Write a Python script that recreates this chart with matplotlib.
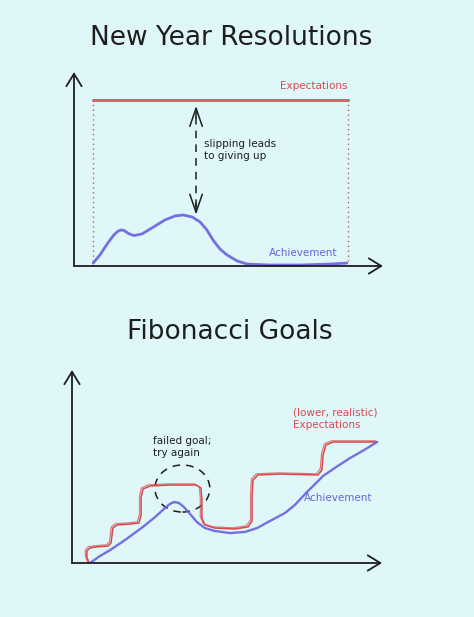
import matplotlib

matplotlib.use("Agg")

import matplotlib.pyplot as plt
import matplotlib.transforms as mtransforms
from matplotlib.patches import Ellipse


BACKGROUND = "#e0f7fa"
INK = "#1e1e1e"
RED_SOFT = "#d9636b"
RED = "#d9474b"
VIOLET = "#6a60df"

# --- New Year Resolutions (x: time 0-100, y: level 0-100) ---
NY_EXPECT_LEVEL = 85.6
NY_EXPECT_START = 6.1
NY_EXPECT_END = 88.6
NY_ACHIEVE_X = [6.2, 8.4, 10.7, 12.9, 14.2, 15.2, 16.2, 17.8, 19.4, 22.0, 25.2,
                29.4, 32.7, 35.3, 38.2, 40.8, 43.0, 45.0, 47.2, 49.5, 52.8,
                56.0, 63.4, 73.1, 82.8, 88.3]
NY_ACHIEVE_Y = [1.5, 5.7, 11.3, 16.0, 17.9, 18.6, 18.3, 16.6, 15.7, 16.5, 19.6,
                23.7, 25.8, 26.3, 25.3, 22.7, 18.6, 13.4, 8.8, 5.7, 2.6,
                1.0, 0.5, 0.5, 1.0, 1.5]
NY_GAP_X = 39.5
NY_GAP_TOP = 82.5
NY_GAP_BOTTOM = 26.5

# --- Fibonacci Goals ---
FIB_ACHIEVE_X = [5.8, 9.0, 12.3, 17.1, 22.9, 26.8, 30.0, 31.6, 32.9, 34.5, 36.1,
                 38.1, 40.3, 42.9, 46.1, 51.0, 55.8, 59.7, 63.9, 68.7, 71.9,
                 75.8, 78.4, 81.0, 85.2, 89.7, 94.2, 98.4]
FIB_ACHIEVE_Y = [0.0, 3.6, 6.7, 11.9, 18.7, 23.8, 28.5, 30.6, 31.6, 31.1, 29.0,
                 25.4, 21.2, 18.1, 16.6, 15.5, 16.1, 18.1, 21.8, 25.9, 30.1,
                 36.8, 40.9, 45.1, 49.7, 54.4, 58.5, 62.7]
FIB_EXPECT_X = [5.5, 4.8, 4.8, 5.8, 7.7, 11.6, 12.6, 12.9, 13.2, 14.5, 18.7,
                21.6, 22.3, 22.3, 22.9, 25.2, 31.6, 40.0, 41.6, 41.9, 41.9,
                42.9, 46.1, 52.6, 56.8, 58.1, 58.1, 58.4, 60.0, 67.1, 79.4,
                80.6, 81.0, 81.9, 84.2, 98.4]
FIB_EXPECT_Y = [0.0, 3.1, 6.2, 7.8, 8.3, 8.8, 10.4, 14.5, 18.1, 19.7, 20.2,
                20.7, 24.9, 34.2, 38.3, 39.9, 40.4, 40.4, 38.9, 32.6, 23.3,
                19.7, 18.1, 17.6, 18.7, 21.8, 35.2, 43.0, 45.6, 46.1, 45.6,
                48.2, 56.0, 61.1, 62.7, 62.7]
FIB_FAILED_CENTER = (35.6, 38.6)
FIB_FAILED_SIZE = (17.7, 24.4)


def make_axis(figure, left, bottom, right, top):
    """在像素框内建立一个无刻度的手绘风格坐标系。"""
    width, height = figure.bbox.width, figure.bbox.height
    axis = figure.add_axes([left / width, 1 - bottom / height,
                            (right - left) / width, (bottom - top) / height])
    axis.set_xlim(0, 100)
    axis.set_ylim(0, 100)
    axis.set_facecolor("none")
    axis.set_axis_off()
    arrow = dict(arrowstyle="->,head_length=0.9,head_width=0.55",
                 color=INK, lw=1.3, shrinkA=0, shrinkB=0)
    axis.annotate("", xy=(0, 1), xytext=(0, 0), xycoords="axes fraction",
                  arrowprops=arrow)
    axis.annotate("", xy=(1, 0), xytext=(0, 0), xycoords="axes fraction",
                  arrowprops=arrow)
    return axis


def draw_new_year(axis):
    axis.plot([NY_EXPECT_START, NY_EXPECT_END], [NY_EXPECT_LEVEL] * 2,
              color=RED_SOFT, lw=2.2, solid_capstyle="round")
    for x in (NY_EXPECT_START, NY_EXPECT_END):
        axis.plot([x, x], [0, NY_EXPECT_LEVEL], color="#b0606a", lw=1.0,
                  linestyle=(0, (1, 2.5)))
    axis.plot(NY_ACHIEVE_X, NY_ACHIEVE_Y, color=VIOLET, lw=2.0, alpha=0.9,
              solid_joinstyle="round", solid_capstyle="round", clip_on=False)

    axis.plot([NY_GAP_X, NY_GAP_X], [NY_GAP_BOTTOM + 4, NY_GAP_TOP - 4],
              color=INK, lw=1.1, linestyle=(0, (5, 4)))
    head = dict(arrowstyle="->,head_length=1.3,head_width=0.45", color=INK,
                lw=1.1, shrinkA=0, shrinkB=0)
    axis.annotate("", xy=(NY_GAP_X, NY_GAP_TOP), xytext=(NY_GAP_X, NY_GAP_TOP - 6),
                  arrowprops=head)
    axis.annotate("", xy=(NY_GAP_X, NY_GAP_BOTTOM),
                  xytext=(NY_GAP_X, NY_GAP_BOTTOM + 6), arrowprops=head)

    axis.text(NY_EXPECT_END, NY_EXPECT_LEVEL + 7, "Expectations", color=RED,
              fontsize=7.5, ha="right", va="center")
    axis.text(85.4, 6.7, "Achievement", color=VIOLET, fontsize=7.5,
              ha="right", va="center")
    axis.text(42.1, 59.8, "slipping leads\nto giving up", color=INK,
              fontsize=7.5, ha="left", va="center", linespacing=1.3)


def draw_fibonacci(axis):
    shadow = mtransforms.offset_copy(axis.transData, fig=axis.figure,
                                     x=-1.6, y=1.2, units="dots")
    axis.plot(FIB_EXPECT_X, FIB_EXPECT_Y, color=RED, lw=0.9, alpha=0.7,
              transform=shadow, solid_joinstyle="round")
    axis.plot(FIB_EXPECT_X, FIB_EXPECT_Y, color=RED, lw=1.1,
              solid_joinstyle="round")
    axis.plot(FIB_ACHIEVE_X, FIB_ACHIEVE_Y, color=VIOLET, lw=1.7, alpha=0.9,
              solid_joinstyle="round", solid_capstyle="round")

    axis.add_patch(Ellipse(FIB_FAILED_CENTER, *FIB_FAILED_SIZE, fill=False,
                           edgecolor=INK, lw=1.1, linestyle=(0, (5, 4))))

    axis.text(26.1, 60.1, "failed goal;\ntry again", color=INK, fontsize=7.5,
              ha="left", va="center", linespacing=1.3)
    axis.text(71.3, 74.6, "(lower, realistic)\nExpectations", color=RED,
              fontsize=7.5, ha="left", va="center", linespacing=1.3)
    axis.text(74.8, 33.7, "Achievement", color=VIOLET, fontsize=7.5,
              ha="left", va="center")


def main():
    figure = plt.figure(figsize=(4.74, 6.17), dpi=100, facecolor=BACKGROUND)

    figure.text(231 / 474, 1 - 38 / 617, "New Year Resolutions", fontsize=19,
                ha="center", va="center", color=INK)
    figure.text(230 / 474, 1 - 332 / 617, "Fibonacci Goals", fontsize=19,
                ha="center", va="center", color=INK)

    draw_new_year(make_axis(figure, 74, 266, 383, 72))
    draw_fibonacci(make_axis(figure, 72, 563, 382, 370))

    figure.savefig("out.png", dpi=100, facecolor=BACKGROUND)
    plt.close(figure)


if __name__ == "__main__":
    main()
